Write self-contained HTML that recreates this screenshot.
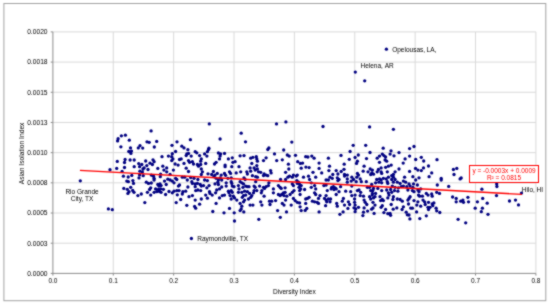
<!DOCTYPE html>
<html><head><meta charset="utf-8"><title>Chart</title>
<style>html,body{margin:0;padding:0;background:#fff;width:550px;height:305px;overflow:hidden}svg{display:block}</style>
</head><body><svg width="550" height="305" viewBox="0 0 550 305" font-family='"Liberation Sans", Arial, sans-serif' font-size="6.5" fill="#000"><defs><filter id="b" x="0" y="0" width="550" height="305" filterUnits="userSpaceOnUse" color-interpolation-filters="sRGB"><feConvolveMatrix order="3" kernelMatrix="1 2 1 2 12 2 1 2 1" divisor="24" edgeMode="duplicate"/></filter></defs><g filter="url(#b)"><rect x="0" y="0" width="550" height="305" fill="#fff"/><rect x="3.9" y="3.5" width="541.9" height="297.2" fill="none" stroke="#a2a2a2" stroke-width="1"/><line x1="113.28" y1="31.90" x2="113.28" y2="273.40" stroke="#d9d9d9" stroke-width="1"/><line x1="173.65" y1="31.90" x2="173.65" y2="273.40" stroke="#d9d9d9" stroke-width="1"/><line x1="234.03" y1="31.90" x2="234.03" y2="273.40" stroke="#d9d9d9" stroke-width="1"/><line x1="294.40" y1="31.90" x2="294.40" y2="273.40" stroke="#d9d9d9" stroke-width="1"/><line x1="354.77" y1="31.90" x2="354.77" y2="273.40" stroke="#d9d9d9" stroke-width="1"/><line x1="415.15" y1="31.90" x2="415.15" y2="273.40" stroke="#d9d9d9" stroke-width="1"/><line x1="475.53" y1="31.90" x2="475.53" y2="273.40" stroke="#d9d9d9" stroke-width="1"/><line x1="535.90" y1="31.90" x2="535.90" y2="273.40" stroke="#d9d9d9" stroke-width="1"/><line x1="52.90" y1="243.21" x2="535.90" y2="243.21" stroke="#d9d9d9" stroke-width="1"/><line x1="52.90" y1="213.02" x2="535.90" y2="213.02" stroke="#d9d9d9" stroke-width="1"/><line x1="52.90" y1="182.84" x2="535.90" y2="182.84" stroke="#d9d9d9" stroke-width="1"/><line x1="52.90" y1="152.65" x2="535.90" y2="152.65" stroke="#d9d9d9" stroke-width="1"/><line x1="52.90" y1="122.46" x2="535.90" y2="122.46" stroke="#d9d9d9" stroke-width="1"/><line x1="52.90" y1="92.27" x2="535.90" y2="92.27" stroke="#d9d9d9" stroke-width="1"/><line x1="52.90" y1="62.09" x2="535.90" y2="62.09" stroke="#d9d9d9" stroke-width="1"/><line x1="52.90" y1="31.90" x2="535.90" y2="31.90" stroke="#d9d9d9" stroke-width="1"/><line x1="52.90" y1="31.90" x2="52.90" y2="273.90" stroke="#8c8c8c" stroke-width="1"/><line x1="52.40" y1="273.40" x2="535.90" y2="273.40" stroke="#8c8c8c" stroke-width="1"/><line x1="50.70" y1="273.40" x2="52.90" y2="273.40" stroke="#8c8c8c" stroke-width="1"/><line x1="50.70" y1="243.21" x2="52.90" y2="243.21" stroke="#8c8c8c" stroke-width="1"/><line x1="50.70" y1="213.02" x2="52.90" y2="213.02" stroke="#8c8c8c" stroke-width="1"/><line x1="50.70" y1="182.84" x2="52.90" y2="182.84" stroke="#8c8c8c" stroke-width="1"/><line x1="50.70" y1="152.65" x2="52.90" y2="152.65" stroke="#8c8c8c" stroke-width="1"/><line x1="50.70" y1="122.46" x2="52.90" y2="122.46" stroke="#8c8c8c" stroke-width="1"/><line x1="50.70" y1="92.27" x2="52.90" y2="92.27" stroke="#8c8c8c" stroke-width="1"/><line x1="50.70" y1="62.09" x2="52.90" y2="62.09" stroke="#8c8c8c" stroke-width="1"/><line x1="50.70" y1="31.90" x2="52.90" y2="31.90" stroke="#8c8c8c" stroke-width="1"/><line x1="52.90" y1="273.40" x2="52.90" y2="275.60" stroke="#8c8c8c" stroke-width="1"/><line x1="113.28" y1="273.40" x2="113.28" y2="275.60" stroke="#8c8c8c" stroke-width="1"/><line x1="173.65" y1="273.40" x2="173.65" y2="275.60" stroke="#8c8c8c" stroke-width="1"/><line x1="234.03" y1="273.40" x2="234.03" y2="275.60" stroke="#8c8c8c" stroke-width="1"/><line x1="294.40" y1="273.40" x2="294.40" y2="275.60" stroke="#8c8c8c" stroke-width="1"/><line x1="354.77" y1="273.40" x2="354.77" y2="275.60" stroke="#8c8c8c" stroke-width="1"/><line x1="415.15" y1="273.40" x2="415.15" y2="275.60" stroke="#8c8c8c" stroke-width="1"/><line x1="475.53" y1="273.40" x2="475.53" y2="275.60" stroke="#8c8c8c" stroke-width="1"/><line x1="535.90" y1="273.40" x2="535.90" y2="275.60" stroke="#8c8c8c" stroke-width="1"/><text x="47.6" y="275.75" text-anchor="end" font-size="6.7">0.0000</text><text x="47.6" y="245.56" text-anchor="end" font-size="6.7">0.0003</text><text x="47.6" y="215.37" text-anchor="end" font-size="6.7">0.0005</text><text x="47.6" y="185.19" text-anchor="end" font-size="6.7">0.0008</text><text x="47.6" y="155.00" text-anchor="end" font-size="6.7">0.0010</text><text x="47.6" y="124.81" text-anchor="end" font-size="6.7">0.0013</text><text x="47.6" y="94.62" text-anchor="end" font-size="6.7">0.0015</text><text x="47.6" y="64.44" text-anchor="end" font-size="6.7">0.0018</text><text x="47.6" y="34.25" text-anchor="end" font-size="6.7">0.0020</text><text x="52.90" y="283.3" text-anchor="middle">0.0</text><text x="113.28" y="283.3" text-anchor="middle">0.1</text><text x="173.65" y="283.3" text-anchor="middle">0.2</text><text x="234.03" y="283.3" text-anchor="middle">0.3</text><text x="294.40" y="283.3" text-anchor="middle">0.4</text><text x="354.77" y="283.3" text-anchor="middle">0.5</text><text x="415.15" y="283.3" text-anchor="middle">0.6</text><text x="475.53" y="283.3" text-anchor="middle">0.7</text><text x="535.90" y="283.3" text-anchor="middle">0.8</text><text x="294.4" y="293.6" text-anchor="middle">Diversity Index</text><text transform="translate(23.6,153.4) rotate(-90)" text-anchor="middle" font-size="6.7">Asian Isolation Index</text><g fill="#000080"><circle cx="151.1" cy="130.9" r="1.65"/><circle cx="121.4" cy="135.8" r="1.65"/><circle cx="125.4" cy="135.2" r="1.65"/><circle cx="118.1" cy="138.7" r="1.65"/><circle cx="117.6" cy="140.9" r="1.65"/><circle cx="129.3" cy="140.2" r="1.65"/><circle cx="147.0" cy="141.8" r="1.65"/><circle cx="149.2" cy="142.3" r="1.65"/><circle cx="120.9" cy="146.8" r="1.65"/><circle cx="130.5" cy="147.9" r="1.65"/><circle cx="140.0" cy="145.7" r="1.65"/><circle cx="138.3" cy="147.9" r="1.65"/><circle cx="142.7" cy="148.1" r="1.65"/><circle cx="154.3" cy="147.0" r="1.65"/><circle cx="128.8" cy="151.5" r="1.65"/><circle cx="131.5" cy="151.1" r="1.65"/><circle cx="130.9" cy="153.4" r="1.65"/><circle cx="117.3" cy="161.4" r="1.65"/><circle cx="125.1" cy="159.5" r="1.65"/><circle cx="124.5" cy="162.5" r="1.65"/><circle cx="130.1" cy="160.0" r="1.65"/><circle cx="134.2" cy="160.0" r="1.65"/><circle cx="138.7" cy="163.6" r="1.65"/><circle cx="141.8" cy="164.5" r="1.65"/><circle cx="145.7" cy="161.0" r="1.65"/><circle cx="150.0" cy="163.2" r="1.65"/><circle cx="152.4" cy="164.5" r="1.65"/><circle cx="153.0" cy="159.8" r="1.65"/><circle cx="154.1" cy="161.7" r="1.65"/><circle cx="110.0" cy="169.7" r="1.65"/><circle cx="116.7" cy="168.4" r="1.65"/><circle cx="124.5" cy="167.5" r="1.65"/><circle cx="134.2" cy="166.7" r="1.65"/><circle cx="139.6" cy="166.7" r="1.65"/><circle cx="144.1" cy="167.9" r="1.65"/><circle cx="146.8" cy="165.6" r="1.65"/><circle cx="143.0" cy="169.0" r="1.65"/><circle cx="148.0" cy="169.5" r="1.65"/><circle cx="122.1" cy="171.4" r="1.65"/><circle cx="139.9" cy="171.2" r="1.65"/><circle cx="142.4" cy="172.0" r="1.65"/><circle cx="123.4" cy="176.2" r="1.65"/><circle cx="128.2" cy="177.0" r="1.65"/><circle cx="131.8" cy="175.4" r="1.65"/><circle cx="139.6" cy="174.9" r="1.65"/><circle cx="143.2" cy="175.7" r="1.65"/><circle cx="139.0" cy="177.9" r="1.65"/><circle cx="151.3" cy="175.1" r="1.65"/><circle cx="153.5" cy="176.2" r="1.65"/><circle cx="154.1" cy="178.3" r="1.65"/><circle cx="126.8" cy="181.1" r="1.65"/><circle cx="128.4" cy="181.7" r="1.65"/><circle cx="132.9" cy="180.6" r="1.65"/><circle cx="133.5" cy="183.4" r="1.65"/><circle cx="146.3" cy="182.2" r="1.65"/><circle cx="148.5" cy="183.4" r="1.65"/><circle cx="151.3" cy="183.0" r="1.65"/><circle cx="154.1" cy="180.0" r="1.65"/><circle cx="123.8" cy="188.4" r="1.65"/><circle cx="127.3" cy="189.3" r="1.65"/><circle cx="130.7" cy="187.3" r="1.65"/><circle cx="132.7" cy="190.4" r="1.65"/><circle cx="134.0" cy="192.3" r="1.65"/><circle cx="129.0" cy="191.7" r="1.65"/><circle cx="127.9" cy="193.4" r="1.65"/><circle cx="137.9" cy="195.6" r="1.65"/><circle cx="141.3" cy="194.0" r="1.65"/><circle cx="147.4" cy="192.3" r="1.65"/><circle cx="149.6" cy="189.5" r="1.65"/><circle cx="150.7" cy="187.8" r="1.65"/><circle cx="150.7" cy="195.1" r="1.65"/><circle cx="154.1" cy="192.3" r="1.65"/><circle cx="144.8" cy="202.6" r="1.65"/><circle cx="108.4" cy="208.9" r="1.65"/><circle cx="112.3" cy="209.7" r="1.65"/><circle cx="209.3" cy="123.9" r="1.65"/><circle cx="156.7" cy="141.4" r="1.65"/><circle cx="172.0" cy="145.3" r="1.65"/><circle cx="177.0" cy="141.8" r="1.65"/><circle cx="190.4" cy="139.7" r="1.65"/><circle cx="181.8" cy="146.2" r="1.65"/><circle cx="184.0" cy="147.9" r="1.65"/><circle cx="208.9" cy="148.2" r="1.65"/><circle cx="187.9" cy="149.7" r="1.65"/><circle cx="208.5" cy="149.5" r="1.65"/><circle cx="207.4" cy="151.7" r="1.65"/><circle cx="175.6" cy="151.5" r="1.65"/><circle cx="172.3" cy="153.7" r="1.65"/><circle cx="168.4" cy="156.1" r="1.65"/><circle cx="162.0" cy="156.7" r="1.65"/><circle cx="171.7" cy="156.7" r="1.65"/><circle cx="172.9" cy="158.9" r="1.65"/><circle cx="171.7" cy="160.6" r="1.65"/><circle cx="186.8" cy="153.9" r="1.65"/><circle cx="188.5" cy="153.4" r="1.65"/><circle cx="186.2" cy="155.6" r="1.65"/><circle cx="191.2" cy="156.1" r="1.65"/><circle cx="195.2" cy="151.7" r="1.65"/><circle cx="196.8" cy="152.8" r="1.65"/><circle cx="199.6" cy="155.6" r="1.65"/><circle cx="204.6" cy="153.9" r="1.65"/><circle cx="206.9" cy="156.1" r="1.65"/><circle cx="201.3" cy="158.9" r="1.65"/><circle cx="200.7" cy="161.2" r="1.65"/><circle cx="179.5" cy="159.5" r="1.65"/><circle cx="181.2" cy="158.9" r="1.65"/><circle cx="188.5" cy="160.6" r="1.65"/><circle cx="189.6" cy="162.3" r="1.65"/><circle cx="192.4" cy="161.7" r="1.65"/><circle cx="193.5" cy="164.0" r="1.65"/><circle cx="197.4" cy="164.5" r="1.65"/><circle cx="198.5" cy="166.2" r="1.65"/><circle cx="200.7" cy="164.5" r="1.65"/><circle cx="205.7" cy="163.4" r="1.65"/><circle cx="175.1" cy="164.0" r="1.65"/><circle cx="178.1" cy="165.1" r="1.65"/><circle cx="184.0" cy="163.4" r="1.65"/><circle cx="162.8" cy="166.2" r="1.65"/><circle cx="166.7" cy="167.9" r="1.65"/><circle cx="163.9" cy="170.1" r="1.65"/><circle cx="166.7" cy="171.8" r="1.65"/><circle cx="157.8" cy="168.4" r="1.65"/><circle cx="173.4" cy="170.1" r="1.65"/><circle cx="186.2" cy="168.2" r="1.65"/><circle cx="188.5" cy="171.5" r="1.65"/><circle cx="201.3" cy="169.0" r="1.65"/><circle cx="202.4" cy="171.8" r="1.65"/><circle cx="201.3" cy="174.5" r="1.65"/><circle cx="208.0" cy="173.8" r="1.65"/><circle cx="160.6" cy="174.2" r="1.65"/><circle cx="170.1" cy="174.5" r="1.65"/><circle cx="160.3" cy="176.7" r="1.65"/><circle cx="157.8" cy="184.5" r="1.65"/><circle cx="160.0" cy="183.9" r="1.65"/><circle cx="158.9" cy="186.1" r="1.65"/><circle cx="161.1" cy="185.6" r="1.65"/><circle cx="164.5" cy="181.1" r="1.65"/><circle cx="167.8" cy="179.2" r="1.65"/><circle cx="170.1" cy="180.0" r="1.65"/><circle cx="172.3" cy="181.1" r="1.65"/><circle cx="174.0" cy="182.8" r="1.65"/><circle cx="175.6" cy="178.3" r="1.65"/><circle cx="176.8" cy="179.5" r="1.65"/><circle cx="166.2" cy="184.5" r="1.65"/><circle cx="179.5" cy="185.0" r="1.65"/><circle cx="178.4" cy="186.1" r="1.65"/><circle cx="155.6" cy="188.9" r="1.65"/><circle cx="158.4" cy="189.5" r="1.65"/><circle cx="160.6" cy="188.9" r="1.65"/><circle cx="163.4" cy="189.3" r="1.65"/><circle cx="156.7" cy="191.7" r="1.65"/><circle cx="159.5" cy="191.5" r="1.65"/><circle cx="161.1" cy="192.3" r="1.65"/><circle cx="169.0" cy="191.5" r="1.65"/><circle cx="172.3" cy="192.8" r="1.65"/><circle cx="174.0" cy="191.2" r="1.65"/><circle cx="176.8" cy="190.6" r="1.65"/><circle cx="179.0" cy="190.6" r="1.65"/><circle cx="165.6" cy="194.5" r="1.65"/><circle cx="177.3" cy="194.8" r="1.65"/><circle cx="182.3" cy="177.2" r="1.65"/><circle cx="184.6" cy="177.2" r="1.65"/><circle cx="187.3" cy="180.0" r="1.65"/><circle cx="190.7" cy="177.5" r="1.65"/><circle cx="194.0" cy="178.3" r="1.65"/><circle cx="197.9" cy="179.5" r="1.65"/><circle cx="204.6" cy="180.0" r="1.65"/><circle cx="207.4" cy="180.6" r="1.65"/><circle cx="191.8" cy="181.7" r="1.65"/><circle cx="192.4" cy="183.4" r="1.65"/><circle cx="195.2" cy="183.9" r="1.65"/><circle cx="197.4" cy="183.4" r="1.65"/><circle cx="200.2" cy="184.5" r="1.65"/><circle cx="201.3" cy="186.1" r="1.65"/><circle cx="203.5" cy="185.6" r="1.65"/><circle cx="206.9" cy="187.8" r="1.65"/><circle cx="209.1" cy="185.6" r="1.65"/><circle cx="187.9" cy="187.0" r="1.65"/><circle cx="195.2" cy="186.7" r="1.65"/><circle cx="195.7" cy="190.6" r="1.65"/><circle cx="197.9" cy="190.0" r="1.65"/><circle cx="200.7" cy="190.6" r="1.65"/><circle cx="185.7" cy="191.2" r="1.65"/><circle cx="182.9" cy="191.7" r="1.65"/><circle cx="182.3" cy="194.0" r="1.65"/><circle cx="205.7" cy="195.1" r="1.65"/><circle cx="189.0" cy="196.7" r="1.65"/><circle cx="192.4" cy="195.6" r="1.65"/><circle cx="207.4" cy="198.2" r="1.65"/><circle cx="180.7" cy="199.5" r="1.65"/><circle cx="195.2" cy="200.1" r="1.65"/><circle cx="201.3" cy="199.0" r="1.65"/><circle cx="176.2" cy="202.6" r="1.65"/><circle cx="186.8" cy="205.3" r="1.65"/><circle cx="199.6" cy="204.2" r="1.65"/><circle cx="194.6" cy="206.4" r="1.65"/><circle cx="195.7" cy="208.2" r="1.65"/><circle cx="220.1" cy="139.0" r="1.65"/><circle cx="241.2" cy="133.2" r="1.65"/><circle cx="245.5" cy="141.8" r="1.65"/><circle cx="218.4" cy="153.0" r="1.65"/><circle cx="220.6" cy="153.9" r="1.65"/><circle cx="224.5" cy="153.4" r="1.65"/><circle cx="220.1" cy="156.1" r="1.65"/><circle cx="219.5" cy="158.9" r="1.65"/><circle cx="228.4" cy="158.9" r="1.65"/><circle cx="232.3" cy="157.8" r="1.65"/><circle cx="232.9" cy="162.3" r="1.65"/><circle cx="235.1" cy="161.7" r="1.65"/><circle cx="240.1" cy="155.8" r="1.65"/><circle cx="244.0" cy="155.6" r="1.65"/><circle cx="250.7" cy="158.2" r="1.65"/><circle cx="252.9" cy="157.3" r="1.65"/><circle cx="256.3" cy="156.7" r="1.65"/><circle cx="256.8" cy="158.9" r="1.65"/><circle cx="257.4" cy="161.2" r="1.65"/><circle cx="263.5" cy="160.6" r="1.65"/><circle cx="216.1" cy="162.3" r="1.65"/><circle cx="214.5" cy="164.0" r="1.65"/><circle cx="225.1" cy="165.1" r="1.65"/><circle cx="225.1" cy="166.7" r="1.65"/><circle cx="231.8" cy="166.7" r="1.65"/><circle cx="239.0" cy="166.7" r="1.65"/><circle cx="251.8" cy="163.4" r="1.65"/><circle cx="256.8" cy="165.6" r="1.65"/><circle cx="250.1" cy="167.9" r="1.65"/><circle cx="250.7" cy="171.2" r="1.65"/><circle cx="254.1" cy="167.9" r="1.65"/><circle cx="255.2" cy="170.1" r="1.65"/><circle cx="257.4" cy="169.0" r="1.65"/><circle cx="258.5" cy="171.8" r="1.65"/><circle cx="260.7" cy="172.3" r="1.65"/><circle cx="264.1" cy="174.0" r="1.65"/><circle cx="246.8" cy="171.8" r="1.65"/><circle cx="247.4" cy="174.0" r="1.65"/><circle cx="240.7" cy="171.8" r="1.65"/><circle cx="236.2" cy="172.9" r="1.65"/><circle cx="229.5" cy="171.8" r="1.65"/><circle cx="230.6" cy="173.4" r="1.65"/><circle cx="213.4" cy="171.5" r="1.65"/><circle cx="211.7" cy="174.5" r="1.65"/><circle cx="215.0" cy="175.1" r="1.65"/><circle cx="217.3" cy="173.4" r="1.65"/><circle cx="221.2" cy="175.1" r="1.65"/><circle cx="224.5" cy="173.4" r="1.65"/><circle cx="225.6" cy="175.3" r="1.65"/><circle cx="252.4" cy="175.7" r="1.65"/><circle cx="209.5" cy="191.7" r="1.65"/><circle cx="210.0" cy="193.4" r="1.65"/><circle cx="212.2" cy="195.1" r="1.65"/><circle cx="216.1" cy="203.4" r="1.65"/><circle cx="213.9" cy="176.7" r="1.65"/><circle cx="216.1" cy="178.3" r="1.65"/><circle cx="218.4" cy="180.0" r="1.65"/><circle cx="220.1" cy="177.8" r="1.65"/><circle cx="217.8" cy="182.2" r="1.65"/><circle cx="218.4" cy="184.5" r="1.65"/><circle cx="215.0" cy="183.9" r="1.65"/><circle cx="221.7" cy="180.0" r="1.65"/><circle cx="226.2" cy="182.8" r="1.65"/><circle cx="226.2" cy="186.1" r="1.65"/><circle cx="216.7" cy="190.0" r="1.65"/><circle cx="219.5" cy="188.9" r="1.65"/><circle cx="221.7" cy="187.0" r="1.65"/><circle cx="215.6" cy="192.8" r="1.65"/><circle cx="219.5" cy="197.9" r="1.65"/><circle cx="222.3" cy="195.6" r="1.65"/><circle cx="224.5" cy="195.1" r="1.65"/><circle cx="227.9" cy="178.3" r="1.65"/><circle cx="231.2" cy="177.8" r="1.65"/><circle cx="231.2" cy="181.7" r="1.65"/><circle cx="231.8" cy="183.4" r="1.65"/><circle cx="232.3" cy="186.1" r="1.65"/><circle cx="234.0" cy="186.7" r="1.65"/><circle cx="228.4" cy="191.2" r="1.65"/><circle cx="229.0" cy="192.8" r="1.65"/><circle cx="231.2" cy="190.6" r="1.65"/><circle cx="232.3" cy="192.3" r="1.65"/><circle cx="230.1" cy="195.6" r="1.65"/><circle cx="233.4" cy="196.2" r="1.65"/><circle cx="234.5" cy="197.9" r="1.65"/><circle cx="231.2" cy="199.0" r="1.65"/><circle cx="236.8" cy="200.1" r="1.65"/><circle cx="229.5" cy="208.4" r="1.65"/><circle cx="238.4" cy="185.6" r="1.65"/><circle cx="239.0" cy="188.9" r="1.65"/><circle cx="238.4" cy="192.3" r="1.65"/><circle cx="240.1" cy="181.7" r="1.65"/><circle cx="241.8" cy="182.8" r="1.65"/><circle cx="243.5" cy="183.9" r="1.65"/><circle cx="244.0" cy="177.8" r="1.65"/><circle cx="245.1" cy="179.5" r="1.65"/><circle cx="242.9" cy="187.3" r="1.65"/><circle cx="245.7" cy="186.1" r="1.65"/><circle cx="247.4" cy="186.7" r="1.65"/><circle cx="249.0" cy="186.7" r="1.65"/><circle cx="241.8" cy="192.3" r="1.65"/><circle cx="244.6" cy="191.2" r="1.65"/><circle cx="247.4" cy="191.7" r="1.65"/><circle cx="243.5" cy="195.6" r="1.65"/><circle cx="242.3" cy="197.3" r="1.65"/><circle cx="245.7" cy="195.1" r="1.65"/><circle cx="244.6" cy="200.1" r="1.65"/><circle cx="243.5" cy="201.8" r="1.65"/><circle cx="240.1" cy="203.4" r="1.65"/><circle cx="241.8" cy="206.2" r="1.65"/><circle cx="249.6" cy="193.4" r="1.65"/><circle cx="255.7" cy="176.7" r="1.65"/><circle cx="257.4" cy="177.2" r="1.65"/><circle cx="263.5" cy="175.6" r="1.65"/><circle cx="255.7" cy="181.7" r="1.65"/><circle cx="254.1" cy="186.1" r="1.65"/><circle cx="255.2" cy="187.3" r="1.65"/><circle cx="259.6" cy="186.1" r="1.65"/><circle cx="263.5" cy="187.3" r="1.65"/><circle cx="254.1" cy="190.6" r="1.65"/><circle cx="256.8" cy="190.6" r="1.65"/><circle cx="253.5" cy="192.8" r="1.65"/><circle cx="261.9" cy="190.6" r="1.65"/><circle cx="261.3" cy="192.8" r="1.65"/><circle cx="251.8" cy="195.6" r="1.65"/><circle cx="250.7" cy="197.3" r="1.65"/><circle cx="248.5" cy="199.0" r="1.65"/><circle cx="264.1" cy="196.2" r="1.65"/><circle cx="250.1" cy="205.1" r="1.65"/><circle cx="252.9" cy="205.1" r="1.65"/><circle cx="260.7" cy="201.8" r="1.65"/><circle cx="261.9" cy="205.1" r="1.65"/><circle cx="212.8" cy="211.5" r="1.65"/><circle cx="224.0" cy="212.8" r="1.65"/><circle cx="234.2" cy="212.8" r="1.65"/><circle cx="234.5" cy="221.0" r="1.65"/><circle cx="240.1" cy="210.6" r="1.65"/><circle cx="241.2" cy="208.9" r="1.65"/><circle cx="243.8" cy="211.9" r="1.65"/><circle cx="258.8" cy="219.3" r="1.65"/><circle cx="276.5" cy="123.9" r="1.65"/><circle cx="285.9" cy="121.9" r="1.65"/><circle cx="291.8" cy="142.1" r="1.65"/><circle cx="268.9" cy="147.9" r="1.65"/><circle cx="267.8" cy="149.5" r="1.65"/><circle cx="283.7" cy="150.0" r="1.65"/><circle cx="274.5" cy="153.9" r="1.65"/><circle cx="266.1" cy="157.8" r="1.65"/><circle cx="276.7" cy="160.6" r="1.65"/><circle cx="282.3" cy="159.8" r="1.65"/><circle cx="287.3" cy="155.0" r="1.65"/><circle cx="289.2" cy="156.1" r="1.65"/><circle cx="295.5" cy="155.3" r="1.65"/><circle cx="288.4" cy="164.2" r="1.65"/><circle cx="288.8" cy="169.0" r="1.65"/><circle cx="285.6" cy="172.3" r="1.65"/><circle cx="297.7" cy="161.7" r="1.65"/><circle cx="300.4" cy="163.4" r="1.65"/><circle cx="302.6" cy="163.1" r="1.65"/><circle cx="301.2" cy="168.2" r="1.65"/><circle cx="305.9" cy="167.1" r="1.65"/><circle cx="309.1" cy="167.6" r="1.65"/><circle cx="305.7" cy="156.7" r="1.65"/><circle cx="307.9" cy="157.0" r="1.65"/><circle cx="311.8" cy="156.1" r="1.65"/><circle cx="314.1" cy="158.2" r="1.65"/><circle cx="319.1" cy="163.1" r="1.65"/><circle cx="319.1" cy="168.4" r="1.65"/><circle cx="313.0" cy="172.3" r="1.65"/><circle cx="266.1" cy="175.1" r="1.65"/><circle cx="267.8" cy="175.7" r="1.65"/><circle cx="270.6" cy="170.6" r="1.65"/><circle cx="271.1" cy="172.9" r="1.65"/><circle cx="293.4" cy="175.1" r="1.65"/><circle cx="297.3" cy="175.1" r="1.65"/><circle cx="308.5" cy="176.2" r="1.65"/><circle cx="280.6" cy="179.5" r="1.65"/><circle cx="285.6" cy="179.5" r="1.65"/><circle cx="287.9" cy="177.2" r="1.65"/><circle cx="289.5" cy="176.1" r="1.65"/><circle cx="292.3" cy="177.2" r="1.65"/><circle cx="296.2" cy="176.1" r="1.65"/><circle cx="303.5" cy="177.2" r="1.65"/><circle cx="315.7" cy="177.2" r="1.65"/><circle cx="309.6" cy="179.5" r="1.65"/><circle cx="268.9" cy="182.8" r="1.65"/><circle cx="268.4" cy="185.6" r="1.65"/><circle cx="266.1" cy="186.7" r="1.65"/><circle cx="264.5" cy="188.4" r="1.65"/><circle cx="278.4" cy="185.6" r="1.65"/><circle cx="280.1" cy="187.3" r="1.65"/><circle cx="281.2" cy="188.4" r="1.65"/><circle cx="285.1" cy="187.8" r="1.65"/><circle cx="292.3" cy="183.9" r="1.65"/><circle cx="293.4" cy="185.6" r="1.65"/><circle cx="297.3" cy="183.4" r="1.65"/><circle cx="299.6" cy="184.5" r="1.65"/><circle cx="301.2" cy="185.6" r="1.65"/><circle cx="298.5" cy="182.2" r="1.65"/><circle cx="296.8" cy="180.6" r="1.65"/><circle cx="299.0" cy="187.3" r="1.65"/><circle cx="300.7" cy="188.9" r="1.65"/><circle cx="299.6" cy="190.6" r="1.65"/><circle cx="304.6" cy="189.5" r="1.65"/><circle cx="311.3" cy="182.8" r="1.65"/><circle cx="311.3" cy="187.3" r="1.65"/><circle cx="314.6" cy="185.6" r="1.65"/><circle cx="315.7" cy="188.9" r="1.65"/><circle cx="273.4" cy="188.9" r="1.65"/><circle cx="273.4" cy="192.8" r="1.65"/><circle cx="278.4" cy="194.5" r="1.65"/><circle cx="280.1" cy="195.6" r="1.65"/><circle cx="281.7" cy="194.5" r="1.65"/><circle cx="283.4" cy="192.8" r="1.65"/><circle cx="285.1" cy="192.3" r="1.65"/><circle cx="284.0" cy="195.6" r="1.65"/><circle cx="286.8" cy="196.2" r="1.65"/><circle cx="290.1" cy="194.5" r="1.65"/><circle cx="292.3" cy="192.3" r="1.65"/><circle cx="294.0" cy="190.6" r="1.65"/><circle cx="300.1" cy="194.5" r="1.65"/><circle cx="314.6" cy="192.8" r="1.65"/><circle cx="315.7" cy="194.5" r="1.65"/><circle cx="318.5" cy="198.4" r="1.65"/><circle cx="269.5" cy="201.2" r="1.65"/><circle cx="271.7" cy="201.2" r="1.65"/><circle cx="270.0" cy="204.5" r="1.65"/><circle cx="275.6" cy="200.6" r="1.65"/><circle cx="282.3" cy="203.4" r="1.65"/><circle cx="284.0" cy="205.1" r="1.65"/><circle cx="285.6" cy="200.1" r="1.65"/><circle cx="291.2" cy="205.1" r="1.65"/><circle cx="293.4" cy="198.4" r="1.65"/><circle cx="295.1" cy="200.6" r="1.65"/><circle cx="297.3" cy="202.3" r="1.65"/><circle cx="299.6" cy="202.9" r="1.65"/><circle cx="300.1" cy="206.8" r="1.65"/><circle cx="305.7" cy="199.0" r="1.65"/><circle cx="307.4" cy="198.4" r="1.65"/><circle cx="309.1" cy="197.3" r="1.65"/><circle cx="305.7" cy="203.4" r="1.65"/><circle cx="306.8" cy="208.4" r="1.65"/><circle cx="312.4" cy="201.2" r="1.65"/><circle cx="314.6" cy="201.8" r="1.65"/><circle cx="318.5" cy="203.4" r="1.65"/><circle cx="277.6" cy="210.6" r="1.65"/><circle cx="286.5" cy="211.9" r="1.65"/><circle cx="280.3" cy="217.3" r="1.65"/><circle cx="301.2" cy="210.6" r="1.65"/><circle cx="305.2" cy="210.4" r="1.65"/><circle cx="319.1" cy="211.9" r="1.65"/><circle cx="323.0" cy="126.5" r="1.65"/><circle cx="369.6" cy="126.9" r="1.65"/><circle cx="353.2" cy="145.3" r="1.65"/><circle cx="365.7" cy="145.3" r="1.65"/><circle cx="350.1" cy="151.5" r="1.65"/><circle cx="370.0" cy="152.5" r="1.65"/><circle cx="341.0" cy="155.4" r="1.65"/><circle cx="328.4" cy="158.2" r="1.65"/><circle cx="349.3" cy="159.3" r="1.65"/><circle cx="355.1" cy="157.5" r="1.65"/><circle cx="358.3" cy="155.0" r="1.65"/><circle cx="366.5" cy="158.6" r="1.65"/><circle cx="329.5" cy="166.2" r="1.65"/><circle cx="328.9" cy="170.6" r="1.65"/><circle cx="321.7" cy="172.9" r="1.65"/><circle cx="344.2" cy="164.2" r="1.65"/><circle cx="344.0" cy="169.3" r="1.65"/><circle cx="341.2" cy="171.5" r="1.65"/><circle cx="336.2" cy="170.6" r="1.65"/><circle cx="337.9" cy="174.0" r="1.65"/><circle cx="332.8" cy="174.5" r="1.65"/><circle cx="357.4" cy="161.2" r="1.65"/><circle cx="356.5" cy="163.4" r="1.65"/><circle cx="364.1" cy="166.2" r="1.65"/><circle cx="363.2" cy="171.2" r="1.65"/><circle cx="368.0" cy="171.8" r="1.65"/><circle cx="370.2" cy="169.0" r="1.65"/><circle cx="372.4" cy="170.1" r="1.65"/><circle cx="371.9" cy="172.9" r="1.65"/><circle cx="373.5" cy="174.2" r="1.65"/><circle cx="370.7" cy="174.5" r="1.65"/><circle cx="357.4" cy="173.4" r="1.65"/><circle cx="358.5" cy="175.1" r="1.65"/><circle cx="344.5" cy="174.5" r="1.65"/><circle cx="347.3" cy="175.1" r="1.65"/><circle cx="330.0" cy="177.2" r="1.65"/><circle cx="332.3" cy="178.3" r="1.65"/><circle cx="326.1" cy="180.0" r="1.65"/><circle cx="328.4" cy="180.0" r="1.65"/><circle cx="337.3" cy="177.8" r="1.65"/><circle cx="339.0" cy="179.5" r="1.65"/><circle cx="337.9" cy="180.6" r="1.65"/><circle cx="344.5" cy="176.1" r="1.65"/><circle cx="347.3" cy="178.9" r="1.65"/><circle cx="351.8" cy="177.2" r="1.65"/><circle cx="353.5" cy="179.5" r="1.65"/><circle cx="356.8" cy="177.2" r="1.65"/><circle cx="360.2" cy="178.9" r="1.65"/><circle cx="356.2" cy="181.7" r="1.65"/><circle cx="351.2" cy="181.1" r="1.65"/><circle cx="361.3" cy="181.7" r="1.65"/><circle cx="366.3" cy="181.7" r="1.65"/><circle cx="347.3" cy="182.2" r="1.65"/><circle cx="323.9" cy="185.6" r="1.65"/><circle cx="326.1" cy="185.0" r="1.65"/><circle cx="331.7" cy="187.3" r="1.65"/><circle cx="333.4" cy="186.7" r="1.65"/><circle cx="335.1" cy="187.8" r="1.65"/><circle cx="331.2" cy="188.9" r="1.65"/><circle cx="334.0" cy="189.5" r="1.65"/><circle cx="336.2" cy="188.9" r="1.65"/><circle cx="327.3" cy="190.6" r="1.65"/><circle cx="340.6" cy="186.7" r="1.65"/><circle cx="339.0" cy="191.7" r="1.65"/><circle cx="345.7" cy="191.2" r="1.65"/><circle cx="350.7" cy="191.7" r="1.65"/><circle cx="351.8" cy="186.1" r="1.65"/><circle cx="357.4" cy="190.6" r="1.65"/><circle cx="359.0" cy="190.0" r="1.65"/><circle cx="360.7" cy="192.3" r="1.65"/><circle cx="367.4" cy="187.3" r="1.65"/><circle cx="369.6" cy="187.3" r="1.65"/><circle cx="370.7" cy="190.6" r="1.65"/><circle cx="373.5" cy="188.4" r="1.65"/><circle cx="372.4" cy="193.4" r="1.65"/><circle cx="320.0" cy="195.6" r="1.65"/><circle cx="326.1" cy="195.6" r="1.65"/><circle cx="336.2" cy="194.5" r="1.65"/><circle cx="324.5" cy="198.4" r="1.65"/><circle cx="326.1" cy="200.1" r="1.65"/><circle cx="328.4" cy="199.0" r="1.65"/><circle cx="330.6" cy="199.0" r="1.65"/><circle cx="326.7" cy="201.8" r="1.65"/><circle cx="330.0" cy="201.8" r="1.65"/><circle cx="317.2" cy="202.3" r="1.65"/><circle cx="325.6" cy="205.7" r="1.65"/><circle cx="336.7" cy="203.4" r="1.65"/><circle cx="337.3" cy="206.2" r="1.65"/><circle cx="343.4" cy="198.4" r="1.65"/><circle cx="342.3" cy="201.2" r="1.65"/><circle cx="344.5" cy="205.1" r="1.65"/><circle cx="348.4" cy="201.8" r="1.65"/><circle cx="349.6" cy="204.5" r="1.65"/><circle cx="347.9" cy="208.4" r="1.65"/><circle cx="351.8" cy="195.6" r="1.65"/><circle cx="355.1" cy="195.1" r="1.65"/><circle cx="354.6" cy="199.0" r="1.65"/><circle cx="354.6" cy="202.3" r="1.65"/><circle cx="355.1" cy="205.1" r="1.65"/><circle cx="358.5" cy="207.3" r="1.65"/><circle cx="360.2" cy="195.6" r="1.65"/><circle cx="363.5" cy="196.2" r="1.65"/><circle cx="364.1" cy="200.1" r="1.65"/><circle cx="365.2" cy="202.3" r="1.65"/><circle cx="366.8" cy="204.5" r="1.65"/><circle cx="369.6" cy="196.7" r="1.65"/><circle cx="370.7" cy="199.0" r="1.65"/><circle cx="373.5" cy="197.9" r="1.65"/><circle cx="373.0" cy="202.3" r="1.65"/><circle cx="364.1" cy="207.9" r="1.65"/><circle cx="373.0" cy="207.9" r="1.65"/><circle cx="339.9" cy="214.3" r="1.65"/><circle cx="343.1" cy="211.9" r="1.65"/><circle cx="354.0" cy="207.8" r="1.65"/><circle cx="355.7" cy="208.9" r="1.65"/><circle cx="355.1" cy="211.7" r="1.65"/><circle cx="363.5" cy="212.2" r="1.65"/><circle cx="362.9" cy="215.6" r="1.65"/><circle cx="367.6" cy="211.1" r="1.65"/><circle cx="371.6" cy="209.2" r="1.65"/><circle cx="374.1" cy="213.4" r="1.65"/><circle cx="393.4" cy="129.3" r="1.65"/><circle cx="414.0" cy="146.5" r="1.65"/><circle cx="383.2" cy="148.2" r="1.65"/><circle cx="409.6" cy="148.6" r="1.65"/><circle cx="391.0" cy="150.8" r="1.65"/><circle cx="390.1" cy="154.1" r="1.65"/><circle cx="399.0" cy="152.6" r="1.65"/><circle cx="394.0" cy="155.8" r="1.65"/><circle cx="382.3" cy="154.1" r="1.65"/><circle cx="383.9" cy="155.6" r="1.65"/><circle cx="379.5" cy="156.1" r="1.65"/><circle cx="377.2" cy="158.2" r="1.65"/><circle cx="385.6" cy="157.0" r="1.65"/><circle cx="385.1" cy="160.0" r="1.65"/><circle cx="386.7" cy="161.2" r="1.65"/><circle cx="379.5" cy="162.3" r="1.65"/><circle cx="405.1" cy="158.9" r="1.65"/><circle cx="409.6" cy="156.1" r="1.65"/><circle cx="403.2" cy="163.1" r="1.65"/><circle cx="415.7" cy="159.5" r="1.65"/><circle cx="421.3" cy="157.3" r="1.65"/><circle cx="423.7" cy="161.0" r="1.65"/><circle cx="428.5" cy="166.0" r="1.65"/><circle cx="423.5" cy="167.9" r="1.65"/><circle cx="415.5" cy="168.4" r="1.65"/><circle cx="417.9" cy="170.1" r="1.65"/><circle cx="421.3" cy="170.6" r="1.65"/><circle cx="391.2" cy="165.1" r="1.65"/><circle cx="388.4" cy="166.2" r="1.65"/><circle cx="385.6" cy="167.3" r="1.65"/><circle cx="381.1" cy="167.9" r="1.65"/><circle cx="378.4" cy="169.5" r="1.65"/><circle cx="377.2" cy="171.8" r="1.65"/><circle cx="381.1" cy="171.8" r="1.65"/><circle cx="381.7" cy="173.4" r="1.65"/><circle cx="387.3" cy="171.8" r="1.65"/><circle cx="399.0" cy="169.0" r="1.65"/><circle cx="395.1" cy="171.8" r="1.65"/><circle cx="393.4" cy="174.5" r="1.65"/><circle cx="409.6" cy="171.4" r="1.65"/><circle cx="376.7" cy="179.5" r="1.65"/><circle cx="379.5" cy="178.9" r="1.65"/><circle cx="381.1" cy="180.0" r="1.65"/><circle cx="383.4" cy="178.3" r="1.65"/><circle cx="386.2" cy="178.9" r="1.65"/><circle cx="388.4" cy="177.2" r="1.65"/><circle cx="391.7" cy="175.6" r="1.65"/><circle cx="393.4" cy="177.2" r="1.65"/><circle cx="395.1" cy="179.5" r="1.65"/><circle cx="391.7" cy="179.5" r="1.65"/><circle cx="375.6" cy="182.8" r="1.65"/><circle cx="378.9" cy="182.2" r="1.65"/><circle cx="381.7" cy="182.8" r="1.65"/><circle cx="387.3" cy="181.7" r="1.65"/><circle cx="387.8" cy="183.4" r="1.65"/><circle cx="393.4" cy="182.2" r="1.65"/><circle cx="397.3" cy="182.2" r="1.65"/><circle cx="400.1" cy="183.4" r="1.65"/><circle cx="403.4" cy="181.1" r="1.65"/><circle cx="405.7" cy="182.2" r="1.65"/><circle cx="404.6" cy="177.2" r="1.65"/><circle cx="412.9" cy="176.7" r="1.65"/><circle cx="419.0" cy="177.8" r="1.65"/><circle cx="415.7" cy="180.0" r="1.65"/><circle cx="429.1" cy="176.7" r="1.65"/><circle cx="409.0" cy="183.9" r="1.65"/><circle cx="413.5" cy="183.9" r="1.65"/><circle cx="417.4" cy="185.0" r="1.65"/><circle cx="371.7" cy="184.5" r="1.65"/><circle cx="372.8" cy="190.6" r="1.65"/><circle cx="377.8" cy="188.4" r="1.65"/><circle cx="381.7" cy="190.6" r="1.65"/><circle cx="386.7" cy="190.0" r="1.65"/><circle cx="390.6" cy="189.5" r="1.65"/><circle cx="392.3" cy="186.1" r="1.65"/><circle cx="395.1" cy="187.3" r="1.65"/><circle cx="398.4" cy="187.8" r="1.65"/><circle cx="401.2" cy="186.7" r="1.65"/><circle cx="403.4" cy="186.1" r="1.65"/><circle cx="406.8" cy="186.7" r="1.65"/><circle cx="410.1" cy="186.1" r="1.65"/><circle cx="412.9" cy="187.3" r="1.65"/><circle cx="407.9" cy="190.0" r="1.65"/><circle cx="412.4" cy="190.6" r="1.65"/><circle cx="414.0" cy="191.7" r="1.65"/><circle cx="417.9" cy="190.0" r="1.65"/><circle cx="419.0" cy="191.7" r="1.65"/><circle cx="420.7" cy="188.9" r="1.65"/><circle cx="394.5" cy="190.6" r="1.65"/><circle cx="397.9" cy="191.2" r="1.65"/><circle cx="388.4" cy="192.8" r="1.65"/><circle cx="391.7" cy="192.3" r="1.65"/><circle cx="375.6" cy="193.4" r="1.65"/><circle cx="372.2" cy="195.1" r="1.65"/><circle cx="375.0" cy="196.7" r="1.65"/><circle cx="380.0" cy="196.7" r="1.65"/><circle cx="389.0" cy="195.1" r="1.65"/><circle cx="387.8" cy="197.9" r="1.65"/><circle cx="393.4" cy="196.7" r="1.65"/><circle cx="392.9" cy="199.5" r="1.65"/><circle cx="382.3" cy="199.5" r="1.65"/><circle cx="380.6" cy="200.6" r="1.65"/><circle cx="383.4" cy="200.6" r="1.65"/><circle cx="397.3" cy="199.0" r="1.65"/><circle cx="400.1" cy="199.5" r="1.65"/><circle cx="402.3" cy="201.2" r="1.65"/><circle cx="407.9" cy="200.1" r="1.65"/><circle cx="410.1" cy="196.7" r="1.65"/><circle cx="409.0" cy="198.4" r="1.65"/><circle cx="418.5" cy="195.1" r="1.65"/><circle cx="419.6" cy="196.2" r="1.65"/><circle cx="422.4" cy="196.2" r="1.65"/><circle cx="426.3" cy="193.4" r="1.65"/><circle cx="428.0" cy="195.1" r="1.65"/><circle cx="414.0" cy="200.6" r="1.65"/><circle cx="417.9" cy="201.8" r="1.65"/><circle cx="423.0" cy="200.1" r="1.65"/><circle cx="424.6" cy="201.8" r="1.65"/><circle cx="425.2" cy="204.5" r="1.65"/><circle cx="428.5" cy="202.3" r="1.65"/><circle cx="375.0" cy="205.1" r="1.65"/><circle cx="382.3" cy="205.7" r="1.65"/><circle cx="391.2" cy="204.5" r="1.65"/><circle cx="381.1" cy="207.3" r="1.65"/><circle cx="396.8" cy="207.9" r="1.65"/><circle cx="403.4" cy="206.8" r="1.65"/><circle cx="408.5" cy="204.0" r="1.65"/><circle cx="416.8" cy="205.1" r="1.65"/><circle cx="420.7" cy="206.2" r="1.65"/><circle cx="412.4" cy="208.2" r="1.65"/><circle cx="428.0" cy="207.3" r="1.65"/><circle cx="385.6" cy="209.5" r="1.65"/><circle cx="383.9" cy="212.6" r="1.65"/><circle cx="387.8" cy="213.7" r="1.65"/><circle cx="390.1" cy="213.4" r="1.65"/><circle cx="390.6" cy="215.3" r="1.65"/><circle cx="393.2" cy="209.2" r="1.65"/><circle cx="402.1" cy="209.5" r="1.65"/><circle cx="410.7" cy="208.1" r="1.65"/><circle cx="406.2" cy="212.2" r="1.65"/><circle cx="407.3" cy="214.8" r="1.65"/><circle cx="409.0" cy="215.0" r="1.65"/><circle cx="409.9" cy="218.9" r="1.65"/><circle cx="416.6" cy="211.9" r="1.65"/><circle cx="419.8" cy="218.6" r="1.65"/><circle cx="426.3" cy="215.8" r="1.65"/><circle cx="428.5" cy="209.5" r="1.65"/><circle cx="437.0" cy="159.7" r="1.65"/><circle cx="431.7" cy="172.9" r="1.65"/><circle cx="453.4" cy="169.5" r="1.65"/><circle cx="456.8" cy="168.4" r="1.65"/><circle cx="454.0" cy="174.5" r="1.65"/><circle cx="461.2" cy="177.9" r="1.65"/><circle cx="441.2" cy="178.4" r="1.65"/><circle cx="441.2" cy="180.0" r="1.65"/><circle cx="460.1" cy="178.9" r="1.65"/><circle cx="437.3" cy="185.0" r="1.65"/><circle cx="448.7" cy="186.4" r="1.65"/><circle cx="481.9" cy="189.2" r="1.65"/><circle cx="431.7" cy="194.0" r="1.65"/><circle cx="432.2" cy="196.2" r="1.65"/><circle cx="436.7" cy="192.3" r="1.65"/><circle cx="439.5" cy="193.4" r="1.65"/><circle cx="452.6" cy="197.0" r="1.65"/><circle cx="456.2" cy="198.4" r="1.65"/><circle cx="456.2" cy="201.8" r="1.65"/><circle cx="460.7" cy="201.2" r="1.65"/><circle cx="462.9" cy="200.1" r="1.65"/><circle cx="463.5" cy="202.3" r="1.65"/><circle cx="467.9" cy="197.3" r="1.65"/><circle cx="468.5" cy="201.8" r="1.65"/><circle cx="477.4" cy="201.8" r="1.65"/><circle cx="482.7" cy="198.4" r="1.65"/><circle cx="430.0" cy="207.3" r="1.65"/><circle cx="432.2" cy="204.0" r="1.65"/><circle cx="433.9" cy="202.9" r="1.65"/><circle cx="432.8" cy="205.7" r="1.65"/><circle cx="436.1" cy="208.2" r="1.65"/><circle cx="475.2" cy="208.2" r="1.65"/><circle cx="482.4" cy="208.2" r="1.65"/><circle cx="436.7" cy="210.8" r="1.65"/><circle cx="439.8" cy="212.5" r="1.65"/><circle cx="458.1" cy="219.3" r="1.65"/><circle cx="465.7" cy="222.8" r="1.65"/><circle cx="481.3" cy="211.7" r="1.65"/><circle cx="496.7" cy="183.9" r="1.65"/><circle cx="496.9" cy="186.5" r="1.65"/><circle cx="496.5" cy="195.6" r="1.65"/><circle cx="487.2" cy="203.2" r="1.65"/><circle cx="509.5" cy="201.0" r="1.65"/><circle cx="515.5" cy="200.1" r="1.65"/><circle cx="518.5" cy="204.9" r="1.65"/><circle cx="488.0" cy="214.3" r="1.65"/><circle cx="386.4" cy="49.2" r="1.65"/><circle cx="355.3" cy="72.1" r="1.65"/><circle cx="364.7" cy="80.8" r="1.65"/><circle cx="80.3" cy="180.8" r="1.65"/><circle cx="191.4" cy="238.5" r="1.65"/><circle cx="521.5" cy="193.1" r="1.65"/></g><text x="392.2" y="51.8">Opelousas,</text><text x="426.6" y="51.8">LA,</text><text x="360.5" y="68.3">Helena,</text><text x="384.7" y="68.3">AR</text><text x="82" y="193.5" text-anchor="middle">Rio Grande</text><text x="82" y="200.6" text-anchor="middle">City, TX</text><text x="197.2" y="241.2">Raymondville, TX</text><text x="521.8" y="191.6">Hilo,</text><text x="536.6" y="191.6">HI</text><line x1="79.9" y1="170.3" x2="522" y2="194.4" stroke="#ff0000" stroke-width="1.35"/><rect x="469.5" y="165.5" width="69" height="17" fill="#fff" stroke="#ff0000" stroke-width="1"/><text x="504" y="172.8" text-anchor="middle" class="r" fill="#ff0000">y = -0.0003x + 0.0009</text><text x="504" y="180" text-anchor="middle" class="r" fill="#ff0000">R² = 0.0815</text></g></svg></body></html>
